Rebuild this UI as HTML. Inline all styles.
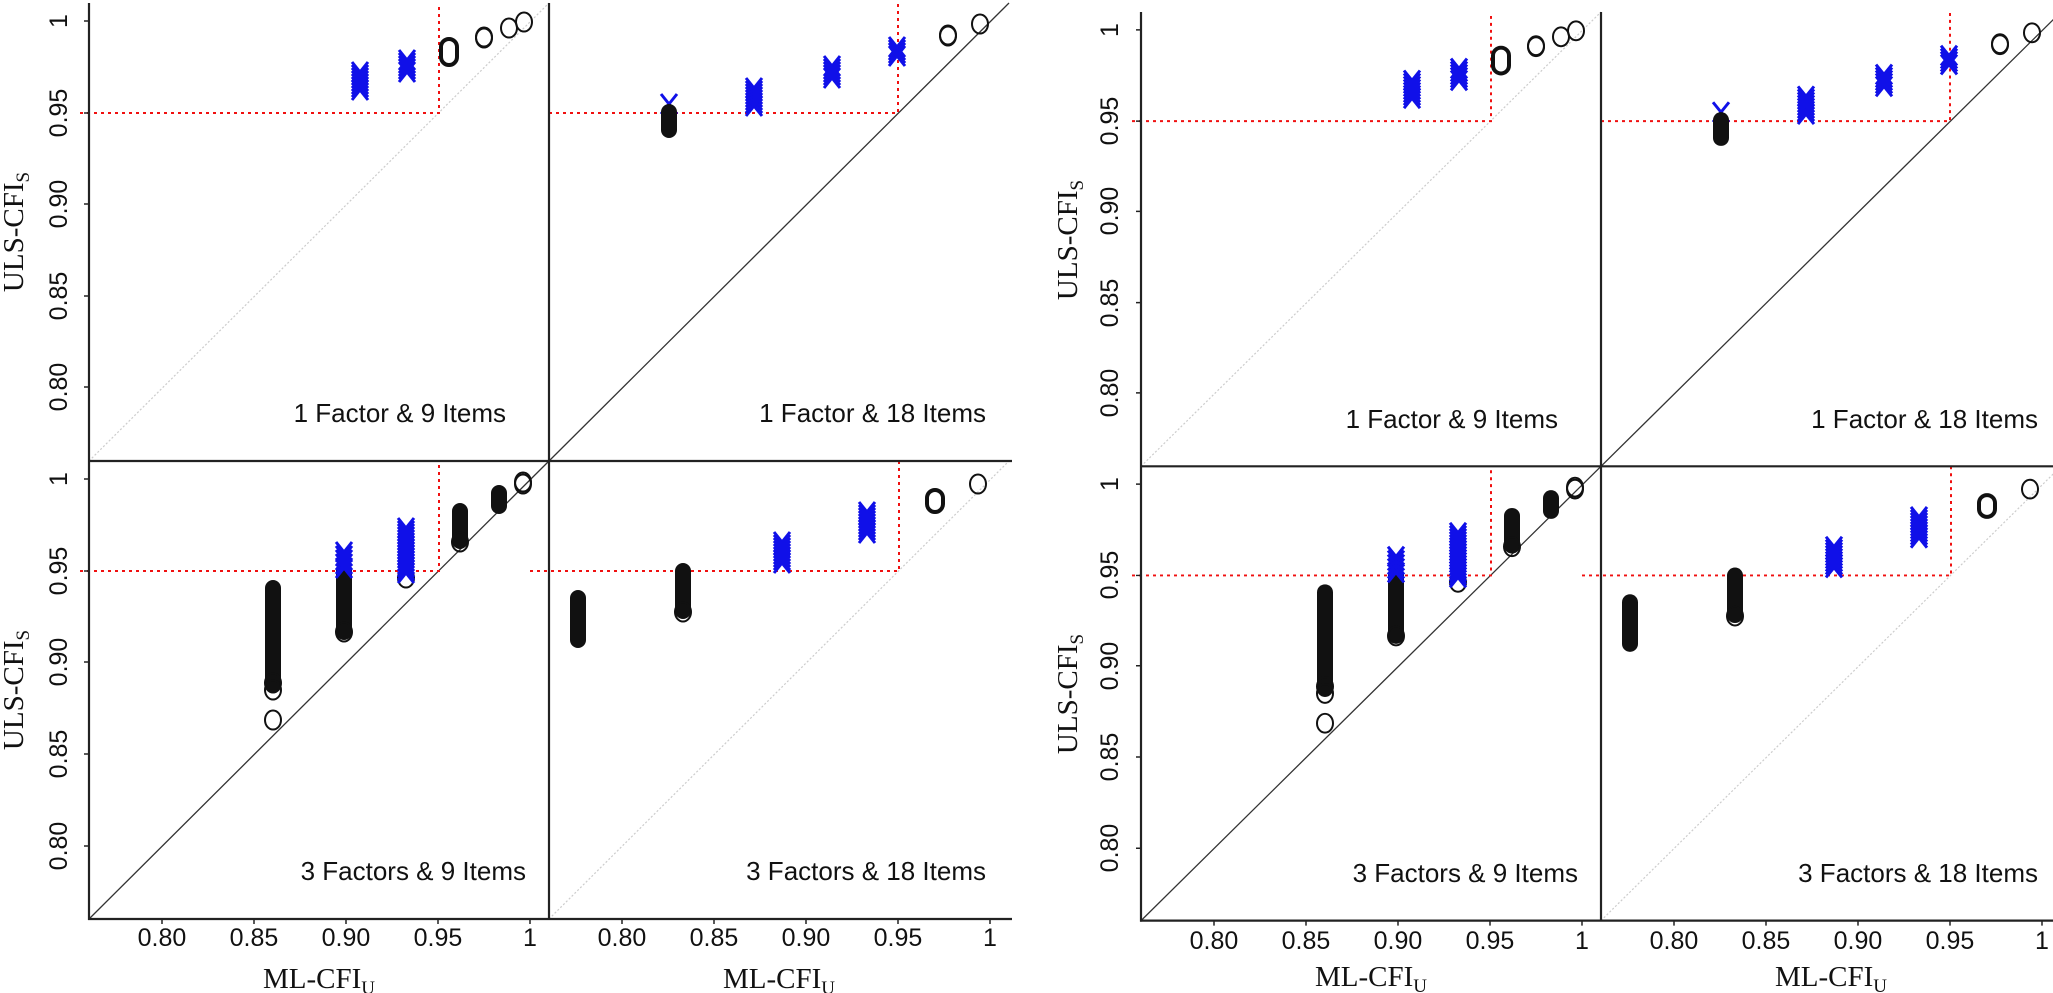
<!DOCTYPE html>
<html><head><meta charset="utf-8"><style>
html,body{margin:0;padding:0;background:#fff;}
svg{display:block;}
.tk{font-family:"Liberation Sans",Arial,sans-serif;font-size:25px;fill:#111;}
.ttl{font-family:"Liberation Serif","Times New Roman",serif;font-size:29px;fill:#111;}
.pl{font-family:"Liberation Sans",Arial,sans-serif;font-size:26px;fill:#111;}
</style></head><body>
<svg width="2053" height="993" viewBox="0 0 2053 993" xmlns="http://www.w3.org/2000/svg">
<defs>
<path id="X" d="M-8,-10 L8,10 M-8,10 L8,-10" stroke="#1010e8" stroke-width="3" fill="none"/>
<ellipse id="O" rx="8" ry="9.5" stroke="#111" stroke-width="2" fill="none"/>
<g id="fig">
 <line x1="89" y1="461" x2="549" y2="3" stroke="#ccc" stroke-width="1.2" stroke-dasharray="2,2"/>
 <line x1="549" y1="919" x2="1009" y2="461" stroke="#ccc" stroke-width="1.2" stroke-dasharray="2,2"/>
 <line x1="549" y1="461" x2="1009" y2="3" stroke="#333" stroke-width="1.3"/>
 <line x1="89" y1="919" x2="549" y2="461" stroke="#333" stroke-width="1.3"/>
 <g stroke="#f01010" stroke-width="2" stroke-dasharray="3,4" fill="none">
  <path d="M80,113 H439 V3"/>
  <path d="M549,113 H898 V3"/>
  <path d="M80,571 H439 V461"/>
  <path d="M530,571 H899 V461"/>
 </g>
 <g stroke="#222" stroke-width="2.2">
  <line x1="89" y1="3" x2="89" y2="920"/>
  <line x1="88" y1="919" x2="1012" y2="919"/>
  <line x1="89" y1="461" x2="1012" y2="461"/>
  <line x1="549" y1="3" x2="549" y2="919"/>
 </g>
 <g stroke="#222" stroke-width="1.5">
  <path d="M84,21H89M84,113H89M84,204H89M84,296H89M84,387H89M84,479H89M84,571H89M84,662H89M84,754H89M84,846H89"/>
  <path d="M162,919V924M254,919V924M346,919V924M438,919V924M530,919V924M622,919V924M714,919V924M806,919V924M898,919V924M990,919V924"/>
 </g>
 <!-- TL data -->
 <g>
  <use href="#X" x="360" y="72"/><use href="#X" x="360" y="75"/><use href="#X" x="360" y="78"/><use href="#X" x="360" y="81"/><use href="#X" x="360" y="84"/><use href="#X" x="360" y="87"/><use href="#X" x="360" y="90"/>
  <use href="#X" x="407" y="60"/><use href="#X" x="407" y="63"/><use href="#X" x="407" y="66"/><use href="#X" x="407" y="69"/><use href="#X" x="407" y="72"/>
  <rect x="441" y="39" width="16" height="26" rx="8" fill="none" stroke="#111" stroke-width="4"/>
  <use href="#O" x="484" y="38"/><use href="#O" x="484" y="37"/>
  <use href="#O" x="509" y="28"/>
  <use href="#O" x="524" y="22"/>
 </g>
 <!-- TR data -->
 <g>
  <use href="#X" x="669" y="104"/>
  <rect x="661" y="104" width="16" height="34" rx="8" fill="#111"/>
  <use href="#X" x="754" y="88"/><use href="#X" x="754" y="91"/><use href="#X" x="754" y="94"/><use href="#X" x="754" y="97"/><use href="#X" x="754" y="100"/><use href="#X" x="754" y="103"/><use href="#X" x="754" y="106"/>
  <use href="#X" x="832" y="66"/><use href="#X" x="832" y="69"/><use href="#X" x="832" y="72"/><use href="#X" x="832" y="75"/><use href="#X" x="832" y="78"/>
  <use href="#X" x="897" y="47"/><use href="#X" x="897" y="50"/><use href="#X" x="897" y="53"/><use href="#X" x="897" y="56"/>
  <use href="#O" x="948" y="35"/><use href="#O" x="948" y="36"/>
  <use href="#O" x="980" y="24"/>
 </g>
 <!-- BL data -->
 <g>
  <rect x="265" y="580" width="16" height="112" rx="8" fill="#111"/>
  <use href="#O" x="273" y="690"/><use href="#O" x="273" y="683"/>
  <use href="#O" x="273" y="720"/>
  <rect x="336" y="562" width="16" height="78" rx="8" fill="#111"/>
  <use href="#O" x="344" y="632"/>
  <use href="#X" x="344" y="552"/><use href="#X" x="344" y="556"/><use href="#X" x="344" y="560"/><use href="#X" x="344" y="564"/><use href="#X" x="344" y="568"/>
  <use href="#O" x="406" y="578"/>
  <use href="#X" x="406" y="528"/><use href="#X" x="406" y="531"/><use href="#X" x="406" y="534"/><use href="#X" x="406" y="537"/><use href="#X" x="406" y="540"/><use href="#X" x="406" y="543"/><use href="#X" x="406" y="546"/><use href="#X" x="406" y="549"/><use href="#X" x="406" y="552"/><use href="#X" x="406" y="555"/><use href="#X" x="406" y="558"/><use href="#X" x="406" y="561"/><use href="#X" x="406" y="564"/><use href="#X" x="406" y="567"/><use href="#X" x="406" y="570"/><use href="#X" x="406" y="573"/>
  <rect x="452" y="503" width="16" height="46" rx="8" fill="#111"/>
  <use href="#O" x="460" y="542"/>
  <rect x="491" y="485" width="16" height="29" rx="8" fill="#111"/>
  <use href="#O" x="523" y="484"/><use href="#O" x="523" y="482"/>
 </g>
 <!-- BR data -->
 <g>
  <rect x="570" y="590" width="16" height="58" rx="8" fill="#111"/>
  <rect x="675" y="563" width="16" height="56" rx="8" fill="#111"/>
  <use href="#O" x="683" y="612"/>
  <use href="#X" x="782" y="542"/><use href="#X" x="782" y="545"/><use href="#X" x="782" y="548"/><use href="#X" x="782" y="551"/><use href="#X" x="782" y="554"/><use href="#X" x="782" y="557"/><use href="#X" x="782" y="560"/><use href="#X" x="782" y="563"/>
  <use href="#X" x="867" y="512"/><use href="#X" x="867" y="515"/><use href="#X" x="867" y="518"/><use href="#X" x="867" y="521"/><use href="#X" x="867" y="524"/><use href="#X" x="867" y="527"/><use href="#X" x="867" y="530"/><use href="#X" x="867" y="533"/>
  <rect x="927" y="490" width="16" height="22" rx="8" fill="none" stroke="#111" stroke-width="4"/>
  <use href="#O" x="978" y="484"/>
 </g>
</g>
</defs>

<use href="#fig"/>
<use href="#fig" transform="translate(1052,9) scale(1,0.992)"/>

<g class="tk" text-anchor="middle">
 <text transform="translate(67,21) rotate(-90)">1</text>
 <text transform="translate(67,113) rotate(-90)">0.95</text>
 <text transform="translate(67,204) rotate(-90)">0.90</text>
 <text transform="translate(67,296) rotate(-90)">0.85</text>
 <text transform="translate(67,387) rotate(-90)">0.80</text>
 <text transform="translate(67,479) rotate(-90)">1</text>
 <text transform="translate(67,571) rotate(-90)">0.95</text>
 <text transform="translate(67,662) rotate(-90)">0.90</text>
 <text transform="translate(67,754) rotate(-90)">0.85</text>
 <text transform="translate(67,846) rotate(-90)">0.80</text>
 <text x="162" y="946">0.80</text><text x="254" y="946">0.85</text><text x="346" y="946">0.90</text><text x="438" y="946">0.95</text><text x="530" y="946">1</text>
 <text x="622" y="946">0.80</text><text x="714" y="946">0.85</text><text x="806" y="946">0.90</text><text x="898" y="946">0.95</text><text x="990" y="946">1</text>
</g>
<g class="ttl" text-anchor="middle">
 <text transform="translate(23,232) rotate(-90)">ULS-CFI<tspan font-size="19" dy="6">S</tspan></text>
 <text transform="translate(23,690) rotate(-90)">ULS-CFI<tspan font-size="19" dy="6">S</tspan></text>
 <text x="319" y="988">ML-CFI<tspan font-size="19" dy="6">U</tspan></text>
 <text x="779" y="988">ML-CFI<tspan font-size="19" dy="6">U</tspan></text>
</g>
<g class="pl" text-anchor="end">
 <text x="506" y="422">1 Factor &amp; 9 Items</text>
 <text x="986" y="422">1 Factor &amp; 18 Items</text>
 <text x="526" y="880">3 Factors &amp; 9 Items</text>
 <text x="986" y="880">3 Factors &amp; 18 Items</text>
</g>

<g class="tk" text-anchor="middle">
 <text transform="translate(1118,30) rotate(-90)">1</text>
 <text transform="translate(1118,121) rotate(-90)">0.95</text>
 <text transform="translate(1118,211) rotate(-90)">0.90</text>
 <text transform="translate(1118,303) rotate(-90)">0.85</text>
 <text transform="translate(1118,393) rotate(-90)">0.80</text>
 <text transform="translate(1118,484) rotate(-90)">1</text>
 <text transform="translate(1118,575) rotate(-90)">0.95</text>
 <text transform="translate(1118,666) rotate(-90)">0.90</text>
 <text transform="translate(1118,757) rotate(-90)">0.85</text>
 <text transform="translate(1118,848) rotate(-90)">0.80</text>
 <text x="1214" y="949">0.80</text><text x="1306" y="949">0.85</text><text x="1398" y="949">0.90</text><text x="1490" y="949">0.95</text><text x="1582" y="949">1</text>
 <text x="1674" y="949">0.80</text><text x="1766" y="949">0.85</text><text x="1858" y="949">0.90</text><text x="1950" y="949">0.95</text><text x="2042" y="949">1</text>
</g>
<g class="ttl" text-anchor="middle">
 <text transform="translate(1077,240) rotate(-90)">ULS-CFI<tspan font-size="19" dy="6">S</tspan></text>
 <text transform="translate(1077,694) rotate(-90)">ULS-CFI<tspan font-size="19" dy="6">S</tspan></text>
 <text x="1371" y="986">ML-CFI<tspan font-size="19" dy="6">U</tspan></text>
 <text x="1831" y="986">ML-CFI<tspan font-size="19" dy="6">U</tspan></text>
</g>
<g class="pl" text-anchor="end">
 <text x="1558" y="428">1 Factor &amp; 9 Items</text>
 <text x="2038" y="428">1 Factor &amp; 18 Items</text>
 <text x="1578" y="882">3 Factors &amp; 9 Items</text>
 <text x="2038" y="882">3 Factors &amp; 18 Items</text>
</g>
</svg>
</body></html>
